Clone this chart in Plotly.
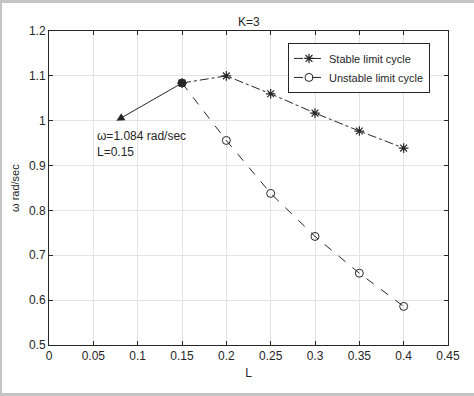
import plotly.graph_objects as go

L_vals = [0.15, 0.2, 0.25, 0.3, 0.35, 0.4]
stable = [1.084, 1.100, 1.060, 1.017, 0.977, 0.939]
unstable = [1.084, 0.956, 0.838, 0.742, 0.660, 0.586]
x_ticks = [0, 0.05, 0.1, 0.15, 0.2, 0.25, 0.3, 0.35, 0.4, 0.45]
x_tick_text = ["0", "0.05", "0.1", "0.15", "0.2", "0.25", "0.3", "0.35", "0.4", "0.45"]
y_ticks = [0.5, 0.6, 0.7, 0.8, 0.9, 1.0, 1.1, 1.2]
y_tick_text = ["0.5", "0.6", "0.7", "0.8", "0.9", "1", "1.1", "1.2"]

ink = "#262626"
font = "Liberation Sans, Arial, sans-serif"

fig = go.Figure()
fig.add_trace(go.Scatter(
    x=L_vals, y=stable, mode="lines+markers", name="Stable limit cycle",
    line=dict(color=ink, width=1, dash="dashdot"),
    marker=dict(symbol="asterisk-open", size=8, line=dict(color=ink, width=1.2), color=ink),
))
fig.add_trace(go.Scatter(
    x=L_vals, y=unstable, mode="lines+markers", name="Unstable limit cycle",
    line=dict(color=ink, width=1, dash="dash"),
    marker=dict(symbol="circle-open", size=8, line=dict(color=ink, width=1), color=ink),
))
# filled point at bifurcation
fig.add_trace(go.Scatter(
    x=[L_vals[0]], y=[stable[0]], mode="markers", showlegend=False,
    marker=dict(symbol="circle", size=7, color=ink),
))

fig.add_annotation(x=0.076, y=1.0, ax=L_vals[0], ay=stable[0], xref="x", yref="y",
                   axref="x", ayref="y", showarrow=True, arrowhead=2, arrowsize=1.6,
                   arrowwidth=1, arrowcolor=ink, text="")
fig.add_annotation(x=0.052, y=0.947, xref="x", yref="y", showarrow=False,
                   xanchor="left", yanchor="middle", align="left",
                   text="ω=1.084 rad/sec<br>L=0.15",
                   font=dict(family=font, size=12, color=ink))
# y-axis title
fig.add_annotation(x=-0.0852, y=0.5, xref="paper", yref="paper", showarrow=False,
                   xanchor="center", yanchor="middle", textangle=-90,
                   text="ω rad/sec", font=dict(family=font, size=11, color=ink))

axis_common = dict(showgrid=True, gridcolor="#e3e3e3", gridwidth=1, zeroline=False,
                   showline=True, linecolor=ink, linewidth=1, mirror="ticks",
                   ticks="inside", ticklen=4, tickcolor=ink,
                   tickfont=dict(family=font, size=12, color=ink))

fig.update_xaxes(range=[0, 0.45], tickvals=x_ticks, ticktext=x_tick_text,
                 title=dict(text="L", font=dict(family=font, size=12, color=ink), standoff=6),
                 **axis_common)
fig.update_yaxes(range=[0.5, 1.2], tickvals=y_ticks, ticktext=y_tick_text,
                 **axis_common)

fig.update_layout(
    width=474, height=396,
    margin=dict(l=49, r=26, t=31, b=51),
    paper_bgcolor="white", plot_bgcolor="white",
    title=dict(text="K=3", x=0.525, xanchor="center", y=0.945, yanchor="middle",
               font=dict(family=font, size=12, color=ink)),
    legend=dict(x=0.599, y=0.962, xanchor="left", yanchor="top",
                bordercolor=ink, borderwidth=1, bgcolor="white",
                font=dict(family=font, size=11, color=ink),
                tracegroupgap=0, itemwidth=30),
    showlegend=True,
)

# grey frame bands of the original figure image
for x0, x1, y0, y1 in [(-0.13, 1.07, 1.0892, 1.12), (-0.13, 1.07, -0.1624, -0.1529),
                       (-0.13, -0.1178, -0.17, 1.12)]:
    fig.add_shape(type="rect", xref="paper", yref="paper", x0=x0, x1=x1, y0=y0, y1=y1,
                  fillcolor="#c4c4c4", line=dict(width=0), layer="above")

fig.write_html("out.html", config={"displayModeBar": False},
               post_script="document.body.style.margin='0';document.body.style.overflow='hidden';")
